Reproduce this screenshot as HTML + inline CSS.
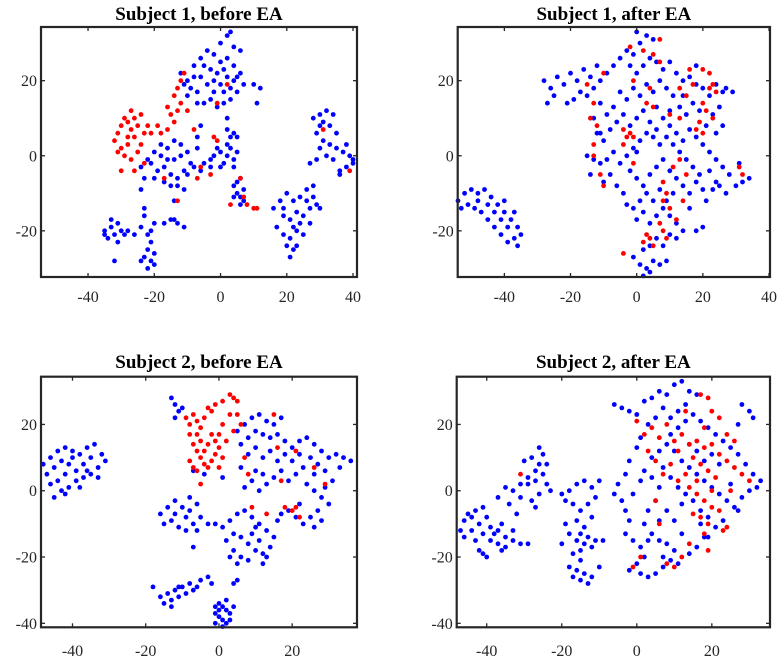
<!DOCTYPE html>
<html><head><meta charset="utf-8"><style>
body{margin:0;background:#fff}
svg{display:block}
.t{font-family:"Liberation Serif",serif;font-weight:bold;font-size:19px;fill:#000}
.k{font-family:"Liberation Serif",serif;font-size:16px;fill:#262626}
</style></head><body>
<svg id="fig" width="781" height="663" viewBox="0 0 781 663" xmlns="http://www.w3.org/2000/svg"></svg>
<script>
// ---- data (t-SNE embeddings, [x,y]) ----
const p1Blue=[[-12,22],[-10,20],[-8,24],[-6,26],[-4,28],[-2,27],[0,25],[2,26],[4,24],[6,22],[7,19],[5,17],[3,15],[1,14],[-1,13],[-3,15],[-5,14],[-7,17],[-9,18],[-11,19],[-6,21],[-4,19],[-2,17],[0,19],[2,21],[4,20],[-1,22],[1,23],[3,18],[-3,23],[-5,24],[0,30],[2,32],[3,33],[4,29],[6,28],[-8,21],[-2,20],[1,17],[5,21],[10,19],[12,18],[11,14],[2,10],[-7,14],[-10,16],
[-24,-3],[-22,-1],[-20,1],[-18,3],[-16,2],[-14,4],[-12,3],[-10,1],[-9,-2],[-11,-4],[-13,-6],[-15,-5],[-17,-3],[-19,-4],[-21,-2],[-14,-1],[-16,-1],[-12,0],[-18,0],[-13,-8],[-11,-9],[-15,-8],[-23,-6],[-20,-6],[-17,-7],[-10,-5],[-8,-3],[-24,-9],[-14,-12],[-7,5],[-6,8],[-7,2],
[-5,-2],[-3,-1],[-2,0],[0,1],[2,0],[4,-1],[3,2],[1,-2],[-1,2],[5,1],[4,-3],[2,3],[3,5],[4,6],[2,7],[-3,-3],[-6,-4],[0,-3],[5,5],
[4,-8],[5,-10],[6,-11],[7,-9],[6,-13],[4,-11],[5,-7],[7,-12],[6,-6],
[28,10],[30,11],[32,12],[34,11],[30,8],[29,6],[31,4],[33,3],[35,2],[37,1],[39,0],[40,-1],[38,-3],[36,-4],[34,-1],[32,0],[30,2],[29,-1],[35,6],[33,8],[31,9],[36,-5],[27,-2],[38,3],[40,-2],
[16,-14],[18,-12],[20,-10],[22,-12],[24,-11],[26,-9],[28,-8],[29,-13],[27,-14],[25,-16],[23,-15],[21,-17],[19,-16],[17,-19],[19,-21],[21,-22],[23,-20],[25,-21],[27,-18],[22,-25],[21,-27],[23,-24],[20,-24],[26,-12],[24,-18],[19,-14],[28,-11],[30,-14],[22,-19],
[-35,-20],[-34,-22],[-33,-19],[-32,-21],[-31,-18],[-33,-17],[-30,-20],[-29,-21],[-35,-21],[-31,-23],[-26,-21],[-28,-20],[-24,-19],[-23,-16],[-22,-21],[-21,-23],[-22,-25],[-23,-27],[-21,-28],[-22,-30],[-20,-29],[-24,-28],[-20,-26],[-21,-20],[-20,-18],[-17,-18],[-15,-17],[-14,-17],[-13,-18],[-11,-19],[-23,-14],[-32,-28]];
const p1Red=[[-32,4],[-31,6],[-30,8],[-29,10],[-28,9],[-27,7],[-26,5],[-28,3],[-30,2],[-29,0],[-27,-1],[-25,1],[-24,3],[-23,6],[-25,8],[-26,10],[-24,11],[-22,8],[-21,6],[-27,12],[-30,-4],[-26,-4],[-28,5],[-31,1],[-23,-2],[-19,8],[-18,6],[-16,7],[-14,9],[-15,11],[-13,12],[-12,14],[-14,16],[-13,18],[-12,20],[-11,22],[-10,12],[-16,13],[-8,7],[-2,5],[-1,4],[6,-6],[8,-13],[10,-14],[11,-14],[3,-13],[-13,-12],[-6,-3],[-7,-6],[-3,-5],[7,-11],[-17,-6],[2,19],[31,7],[39,-4],[-1,14]];
const p2Blue=[[-28,20],[-26,18],[-24,21],[-22,19],[-20,22],[-18,20],[-16,23],[-14,21],[-12,24],[-13,18],[-15,16],[-17,17],[-19,15],[-27,14],[-25,16],[-21,14],
[-11,20],[-9,22],[-7,24],[-5,26],[-3,28],[-1,27],[1,30],[3,32],[5,31],[0,33],[-2,24],[0,22],[2,24],[4,26],[6,25],[8,23],[10,25],[12,22],[14,20],[16,21],[18,19],[20,18],[22,16],[24,19],[26,17],[25,13],[23,11],[21,8],[24,6],[26,8],[19,12],[17,14],[15,11],[13,13],[11,16],[9,18],[7,20],[5,17],[3,19],[1,16],[-1,18],[-3,15],[-5,17],[-7,13],[-9,11],[-11,14],[-13,10],[-12,6],[-10,4],[-8,7],[-6,9],[-4,11],[-2,8],[0,10],[2,12],[4,9],[6,7],[8,10],[10,8],[12,6],[14,4],[16,7],[18,5],[20,3],[22,1],[24,-1],[26,-3],[28,-5],[30,-8],[32,-7],[34,-6],[31,-2],[27,-10],[25,-8],[23,-9],[21,-12],[19,-5],[17,-3],[15,-1],[13,1],[11,3],[9,5],[7,3],[5,5],[3,6],[1,4],[-1,2],[-3,0],[-5,-2],[-7,1],[-9,-1],[-11,-2],[-13,-1],[-15,0],[-10,-7],[-8,-5],[-6,-8],[-4,-10],[-2,-4],[0,-6],[2,-8],[4,-5],[6,-3],[8,-1],[10,-4],[12,-6],[14,-8],[16,-10],[18,-7],[20,-9],[22,-4],[24,-7],[11,-10],[9,-12],[7,-9],[5,-12],[3,-10],[1,-12],[-1,-14],[0,-17],[2,-15],[4,-18],[6,-16],[8,-14],[10,-16],[12,-18],[14,-20],[16,-14],[18,-20],[20,-19],[12,-22],[10,-21],[6,-22],[4,-24],[2,-25],[-1,-27],[1,-29],[3,-30],[5,-28],[7,-29],[2,-32],[4,-31],[9,-28],[8,-24],[-3,-13],[-11,6],[-14,-5],[0,1],[6,13],[10,12],[14,16],[18,24],[27,18],[29,17],
[-54,-12],[-52,-10],[-50,-9],[-48,-10],[-46,-9],[-44,-11],[-42,-13],[-40,-15],[-38,-17],[-36,-19],[-35,-21],[-37,-22],[-39,-23],[-41,-21],[-43,-19],[-45,-17],[-47,-15],[-49,-14],[-51,-13],[-53,-14],[-45,-13],[-43,-15],[-41,-17],[-39,-19],[-37,-15],[-36,-24],[-40,-12],[-48,-12]];
const p2Red=[[-15,19],[-13,14],[-14,10],[-12,8],[-13,3],[-13,0],[-10,-8],[-11,-5],[-4,7],[-3,5],[-2,6],[-1,5],[-4,3],[-1,-2],[-2,29],[2,28],[5,27],[7,25],[7,31],[-1,20],[4,18],[3,14],[5,13],[10,11],[13,18],[15,16],[17,19],[16,23],[20,23],[22,22],[23,19],[24,17],[22,18],[20,14],[21,12],[23,10],[18,7],[19,9],[20,6],[8,-12],[8,-7],[9,-10],[10,-14],[11,-3],[15,-5],[13,-1],[7,-18],[8,-20],[9,-22],[12,-17],[3,-21],[2,-23],[4,-22],[5,-24],[-4,-26],[14,-12],[31,-3],[32,-5],[-10,22],[13,10]];
const p3Blue=[[-48,8],[-46,10],[-44,12],[-42,13],[-40,12],[-38,11],[-36,13],[-34,14],[-32,11],[-31,9],[-33,7],[-35,5],[-37,4],[-39,3],[-41,1],[-43,0],[-45,-2],[-47,5],[-45,7],[-43,9],[-41,8],[-39,6],[-37,8],[-35,10],[-33,4],[-44,3],[-42,5],[-40,10],[-46,2],[-38,1],[-36,6],[-42,-1],
[-13,28],[-12,26],[-11,24],[-12,22],[-10,25],[-7,6],[-4,5],[1,4],
[5,18],[7,20],[9,22],[11,23],[13,21],[15,20],[17,22],[16,17],[14,16],[12,17],[10,18],[8,16],[6,14],[8,11],[10,13],[12,10],[14,12],[16,9],[18,11],[20,13],[22,15],[24,16],[26,14],[28,12],[30,10],[32,11],[34,10],[36,9],[29,6],[27,8],[25,10],[23,7],[21,5],[19,3],[17,6],[15,4],[13,2],[11,0],[9,3],[7,1],[10,6],[12,5],[6,7],[24,2],[26,0],[28,-2],[30,-4],[27,-6],[25,-8],[23,-10],[21,-8],[19,-6],[22,-4],[26,-11],[28,-9],[29,1],[31,3],[20,9],[18,15],[22,11],[26,5],[33,7],
[-16,-7],[-14,-5],[-12,-3],[-10,-5],[-8,-6],[-6,-4],[-5,-8],[-7,-10],[-9,-12],[-11,-11],[-13,-9],[-15,-10],[-12,-7],[-9,-8],[-6,-12],[-8,-2],[-7,-17],[-3,-10],
[-1,-10],[1,-11],[3,-9],[5,-7],[7,-6],[9,-8],[11,-10],[13,-12],[15,-14],[14,-17],[12,-19],[10,-18],[8,-16],[6,-14],[4,-13],[2,-15],[4,-18],[6,-20],[3,-20],[5,-22],[9,-13],[11,-15],[13,-20],[12,-22],[16,-9],[17,-7],[8,-21],[10,-11],
[-16,-32],[-15,-34],[-14,-31],[-13,-33],[-12,-30],[-11,-32],[-10,-29],[-9,-31],[-8,-28],[-7,-30],[-6,-29],[-5,-27],[-3,-26],[-2,-28],[-13,-35],[-11,-29],[-18,-29],[4,-28],[5,-27],[0,-34],[1,-35],[2,-36],[-1,-37],[0,-38],[1,-39],[2,-40],[-1,-40],[3,-37],[0,-36],[1,-41],[2,-33],[-1,-35],[3,-39],[4,-35]];
const p3Red=[[-9,22],[-8,20],[-7,23],[-6,21],[-5,19],[-4,22],[-3,25],[-1,26],[1,27],[3,29],[4,28],[5,27],[-8,17],[-7,14],[-6,12],[-5,10],[-4,8],[-3,7],[-2,9],[-1,11],[0,13],[-1,15],[-2,17],[-3,14],[-4,12],[-5,15],[-6,17],[-8,9],[-7,7],[-6,6],[0,7],[1,10],[0,17],[1,20],[-2,24],[3,23],[5,23],[6,20],[4,18],[2,15],[7,10],[8,5],[20,-6],[21,-5],[18,-5],[22,-8],[26,7],[29,2],[21,12],[16,13],[17,3],[15,23],[9,-5],[13,-7],[-5,2]];
const p4Blue=[[-47,-12],[-46,-9],[-45,-7],[-43,-6],[-41,-5],[-40,-8],[-42,-10],[-44,-12],[-46,-14],[-43,-15],[-41,-13],[-39,-11],[-37,-12],[-35,-14],[-33,-15],[-35,-17],[-37,-16],[-39,-15],[-33,-12],[-36,-10],[-41,-19],[-40,-20],[-42,-18],[-31,-16],[-29,-16],[-38,-13],[-44,-8],[-36,-18],
[-37,-2],[-35,1],[-33,0],[-31,2],[-29,4],[-27,6],[-26,8],[-25,11],[-26,13],[-28,10],[-30,9],[-29,2],[-27,3],[-25,5],[-24,2],[-26,-1],[-28,-3],[-31,-2],[-23,0],[-32,-7],[-27,-5],[-34,-4],[-24,8],
[-20,-1],[-18,0],[-16,2],[-14,3],[-12,1],[-10,3],[-11,-2],[-13,-4],[-15,-6],[-17,-4],[-19,-3],[-16,-9],[-14,-11],[-15,-13],[-13,-14],[-11,-15],[-12,-17],[-14,-16],[-16,-15],[-18,-13],[-17,-19],[-15,-21],[-18,-23],[-16,-24],[-14,-25],[-12,-26],[-13,-28],[-15,-27],[-17,-26],[-10,-23],[-9,-15],[-19,-10],[-20,-16],[-15,-18],[-12,-8],
[-6,26],[-4,25],[-2,24],[0,23],[2,27],[4,28],[6,30],[8,29],[10,32],[12,33],[14,30],[16,29],[13,26],[11,24],[9,22],[7,25],[5,22],[3,20],[1,16],[0,13],[-2,9],[-3,5],[-5,2],[-6,-1],[-4,-3],[-3,-6],[-2,-9],[-3,-13],[-1,-15],[1,-17],[2,-20],[0,-22],[-2,-24],[1,-25],[3,-26],[5,-25],[7,-23],[9,-21],[11,-22],[10,-18],[8,-16],[6,-15],[4,-13],[2,-10],[3,-6],[5,-3],[6,1],[4,4],[2,6],[4,10],[6,12],[8,14],[10,12],[12,9],[14,7],[16,5],[18,3],[20,1],[22,-1],[24,-3],[26,-5],[28,-2],[30,0],[32,1],[33,3],[31,5],[29,8],[27,11],[25,13],[23,15],[21,17],[19,19],[17,21],[15,23],[13,21],[11,19],[9,17],[7,7],[9,4],[11,1],[13,-1],[15,-3],[17,-6],[19,-8],[21,-11],[23,-9],[18,-14],[16,-17],[14,-19],[12,-13],[10,-9],[8,-6],[6,-9],[27,20],[28,26],[30,24],[31,22],[22,8],[20,11],[18,9],[16,12],[14,14],[25,2],[27,-6],[-1,-1],[1,3],[7,-20],[3,-15],[17,-10],[19,-14],[12,-4]];
const p4Red=[[0,21],[2,17],[4,19],[6,16],[8,20],[10,15],[12,17],[14,14],[16,15],[18,13],[20,14],[22,11],[24,9],[26,7],[28,5],[30,3],[15,10],[17,8],[19,6],[21,4],[13,5],[11,3],[9,8],[7,5],[5,9],[3,12],[14,1],[16,-1],[18,-3],[20,-5],[22,-6],[17,-8],[15,-7],[19,-10],[18,-13],[19,-18],[14,-16],[12,-20],[10,-23],[8,-22],[1,-20],[-1,-23],[20,24],[19,28],[17,29],[24,17],[26,15],[22,22],[23,-12],[24,-11],[13,24],[18,19],[11,12],[5,-3],[6,-10],[25,0],[-31,5],[20,0],[16,3]];
const titles=["Subject 1, before EA","Subject 1, after EA","Subject 2, before EA","Subject 2, after EA"];
const xTicks1=[-40,-20,0,20,40];
const yTicks1=[-20,0,20];
const xTicks2=[-40,-20,0,20];
const yTicks2=[-40,-20,0,20];

// ---- layout (pixels) ----
const NS="http://www.w3.org/2000/svg";
const svg=document.getElementById('fig');
const panels=[
 {x0:41,x1:357,y0:27,y1:277,xmin:-54.2,xmax:41.2,ymin:-32.3,ymax:34.3,blue:p1Blue,red:p1Red,xt:xTicks1,yt:yTicks1,ty:20,lb:302},
 {x0:457.7,x1:770,y0:27,y1:277,xmin:-54.1,xmax:40.3,ymin:-32.3,ymax:34.3,blue:p2Blue,red:p2Red,xt:xTicks1,yt:yTicks1,ty:20,lb:302},
 {x0:41,x1:357,y0:376.7,y1:627.3,xmin:-48.6,xmax:37.7,ymin:-41.2,ymax:34.4,blue:p3Blue,red:p3Red,xt:xTicks2,yt:yTicks2,ty:368,lb:656},
 {x0:456.7,x1:770,y0:376.7,y1:627.3,xmin:-48,xmax:35.5,ymin:-41.2,ymax:34.4,blue:p4Blue,red:p4Red,xt:xTicks2,yt:yTicks2,ty:368,lb:656}
];
function mk(tag,attrs,parent){const e=document.createElementNS(NS,tag);for(const k in attrs)e.setAttribute(k,attrs[k]);(parent||svg).appendChild(e);return e;}
panels.forEach((p,i)=>{
 const g=mk('g',{});
 
 
 const sx=v=>p.x0+(v-p.xmin)/(p.xmax-p.xmin)*(p.x1-p.x0);
 const sy=v=>p.y1-(v-p.ymin)/(p.ymax-p.ymin)*(p.y1-p.y0);
 const t=mk('text',{x:(p.x0+p.x1)/2,y:p.ty,'text-anchor':'middle',class:'t'},g);
 t.textContent=titles[i];
 
 
 const pts=mk('g',{},g);
 
 
 [[p.blue,'#0000ff'],[p.red,'#ff0000']].forEach(([arr,col])=>{
  arr.forEach(d=>{
   const c=mk('circle',{cx:sx(d[0]).toFixed(1),cy:sy(d[1]).toFixed(1),r:2.4,fill:col},pts);
   
   
  });
 });
 const ax=mk('g',{stroke:'#262626','stroke-width':1.3,fill:'none'},g);
 
 
 mk('rect',{x:p.x0,y:p.y0,width:p.x1-p.x0,height:p.y1-p.y0,'stroke-width':2.2},ax);
 p.xt.forEach(v=>{
  const X=sx(v);
  mk('line',{x1:X,x2:X,y1:p.y1,y2:p.y1-4},ax);
  mk('line',{x1:X,x2:X,y1:p.y0,y2:p.y0+4},ax);
  const l=mk('text',{x:X,y:p.lb,'text-anchor':'middle',class:'k'},g);
  l.textContent=v;
  
  
 });
 p.yt.forEach(v=>{
  const Y=sy(v);
  mk('line',{x1:p.x0,x2:p.x0+4,y1:Y,y2:Y},ax);
  mk('line',{x1:p.x1,x2:p.x1-4,y1:Y,y2:Y},ax);
  const l=mk('text',{x:p.x0-4,y:Y+5.5,'text-anchor':'end',class:'k'},g);
  l.textContent=v;
  
  
 });
});
</script>
</body></html>
